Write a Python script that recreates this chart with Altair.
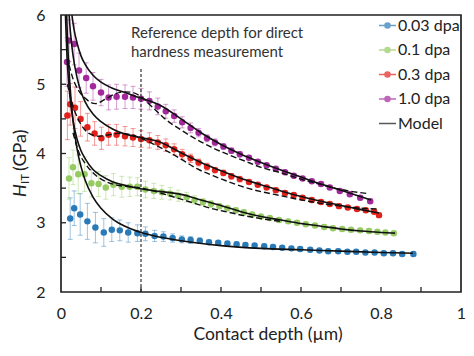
import altair as alt
import pandas as pd

# ---------------- data ----------------
series_names = ["0.03 dpa", "0.1 dpa", "0.3 dpa", "1.0 dpa"]
series_colors = ["#2a7ab8", "#95cb62", "#e3211c", "#a2289c"]

x_003 = [0.023, 0.033, 0.048, 0.066, 0.086, 0.107, 0.127, 0.147, 0.168, 0.191,
         0.211, 0.234, 0.256, 0.279, 0.302, 0.324, 0.347, 0.37, 0.393, 0.416,
         0.439, 0.461, 0.484, 0.508, 0.53, 0.553, 0.576, 0.598, 0.623, 0.646,
         0.668, 0.693, 0.716, 0.738, 0.761, 0.784, 0.807, 0.83, 0.853, 0.881]
h_003 = [3.06, 3.21, 3.12, 3.02, 2.93, 2.86, 2.9, 2.89, 2.86, 2.85,
         2.84, 2.81, 2.8, 2.78, 2.76, 2.75, 2.74, 2.72, 2.71, 2.7,
         2.69, 2.68, 2.67, 2.66, 2.65, 2.64, 2.63, 2.62, 2.61, 2.6,
         2.59, 2.59, 2.58, 2.58, 2.57, 2.57, 2.56, 2.56, 2.55, 2.55]
e_003 = [0.3, 0.25, 0.3, 0.26, 0.22, 0.2, 0.17, 0.15, 0.14, 0.12,
         0.1, 0.08, 0.07, 0.06, 0.05, 0.05, 0.04, 0.03, 0.03, 0.03,
         0.03, 0.03, 0.03, 0.03, 0.03, 0.03, 0.03, 0.03, 0.03, 0.03,
         0.03, 0.03, 0.03, 0.03, 0.03, 0.03, 0.03, 0.03, 0.03, 0.03]

x_01 = [0.02, 0.03, 0.043, 0.059, 0.076, 0.094, 0.112, 0.131, 0.152, 0.172,
        0.191, 0.211, 0.232, 0.252, 0.273, 0.293, 0.314, 0.334, 0.355, 0.375,
        0.396, 0.416, 0.437, 0.457, 0.478, 0.5, 0.522, 0.545, 0.568, 0.59,
        0.612, 0.635, 0.658, 0.68, 0.703, 0.725, 0.748, 0.77, 0.791, 0.811, 0.832]
h_01 = [3.64, 3.8, 3.7, 3.7, 3.57, 3.56, 3.51, 3.55, 3.52, 3.52,
        3.52, 3.48, 3.46, 3.44, 3.42, 3.39, 3.37, 3.33, 3.3, 3.27,
        3.24, 3.21, 3.18, 3.15, 3.12, 3.09, 3.07, 3.04, 3.02, 3.0,
        2.98, 2.96, 2.94, 2.92, 2.91, 2.9, 2.89, 2.88, 2.87, 2.86, 2.85]
e_01 = [0.3, 0.25, 0.28, 0.25, 0.2, 0.18, 0.17, 0.16, 0.15, 0.14,
        0.13, 0.12, 0.11, 0.1, 0.09, 0.08, 0.07, 0.06, 0.05, 0.05,
        0.04, 0.04, 0.04, 0.04, 0.03, 0.03, 0.03, 0.03, 0.03, 0.03,
        0.03, 0.03, 0.03, 0.03, 0.03, 0.03, 0.03, 0.03, 0.03, 0.03, 0.03]

x_03 = [0.016, 0.023, 0.035, 0.049, 0.066, 0.084, 0.101, 0.119, 0.139, 0.16,
        0.18, 0.2, 0.221, 0.242, 0.262, 0.283, 0.303, 0.324, 0.344, 0.365,
        0.385, 0.406, 0.426, 0.447, 0.47, 0.492, 0.514, 0.537, 0.56, 0.582,
        0.604, 0.627, 0.65, 0.672, 0.695, 0.717, 0.74, 0.762, 0.783, 0.795]
h_03 = [4.55, 4.71, 4.66, 4.5, 4.38, 4.29, 4.22, 4.27, 4.27, 4.25,
        4.23, 4.21, 4.19, 4.16, 4.12, 4.06, 3.99, 3.93, 3.87, 3.81,
        3.76, 3.72, 3.67, 3.63, 3.59, 3.55, 3.51, 3.47, 3.43, 3.4,
        3.36, 3.33, 3.3, 3.27, 3.24, 3.22, 3.2, 3.18, 3.16, 3.11]
e_03 = [0.35, 0.3, 0.3, 0.25, 0.2, 0.17, 0.16, 0.15, 0.15, 0.14,
        0.13, 0.12, 0.11, 0.1, 0.09, 0.08, 0.07, 0.06, 0.05, 0.05,
        0.04, 0.04, 0.04, 0.04, 0.03, 0.03, 0.03, 0.03, 0.03, 0.03,
        0.03, 0.03, 0.03, 0.03, 0.03, 0.03, 0.03, 0.03, 0.03, 0.03]

x_10 = [0.015, 0.02, 0.033, 0.045, 0.063, 0.08, 0.1, 0.119, 0.139, 0.16,
        0.18, 0.2, 0.221, 0.242, 0.262, 0.283, 0.303, 0.324, 0.344, 0.365,
        0.385, 0.406, 0.426, 0.447, 0.47, 0.492, 0.514, 0.537, 0.56, 0.582,
        0.604, 0.627, 0.65, 0.672, 0.697, 0.722, 0.748, 0.773]
h_10 = [5.32, 5.63, 5.58, 5.2, 5.09, 4.97, 4.88, 4.81, 4.82, 4.82,
        4.81, 4.79, 4.76, 4.68, 4.61, 4.54, 4.45, 4.37, 4.3, 4.22,
        4.16, 4.1, 4.04, 3.99, 3.94, 3.88, 3.83, 3.78, 3.73, 3.68,
        3.64, 3.6, 3.56, 3.51, 3.46, 3.41, 3.36, 3.31]
e_10 = [0.35, 0.3, 0.3, 0.25, 0.22, 0.2, 0.19, 0.18, 0.18, 0.17,
        0.16, 0.15, 0.13, 0.12, 0.1, 0.09, 0.08, 0.07, 0.06, 0.05,
        0.05, 0.04, 0.04, 0.04, 0.03, 0.03, 0.03, 0.03, 0.03, 0.03,
        0.03, 0.03, 0.03, 0.03, 0.03, 0.03, 0.03, 0.03]

# model curves (solid)
mx_003 = [0.013, 0.016, 0.02, 0.025, 0.03, 0.04, 0.05, 0.06, 0.08, 0.1, 0.13,
          0.16, 0.2, 0.25, 0.3, 0.4, 0.5, 0.6, 0.7, 0.8, 0.88]
mh_003 = [6.2, 5.69, 5.21, 4.79, 4.48, 4.07, 3.81, 3.62, 3.37, 3.21, 3.05,
          2.95, 2.86, 2.79, 2.74, 2.67, 2.63, 2.61, 2.59, 2.57, 2.56]
mx_01 = [0.01, 0.012, 0.015, 0.02, 0.025, 0.03, 0.04, 0.05, 0.06, 0.08, 0.1,
         0.13, 0.16, 0.2, 0.25, 0.3, 0.35, 0.4, 0.45, 0.5, 0.55, 0.6, 0.65,
         0.7, 0.75, 0.8, 0.835]
mh_01 = [6.2, 5.85, 5.4, 4.97, 4.69, 4.48, 4.21, 4.04, 3.93, 3.77, 3.68,
         3.59, 3.54, 3.49, 3.45, 3.41, 3.33, 3.25, 3.16, 3.09, 3.04, 2.99, 2.95,
         2.91, 2.88, 2.86, 2.85]
mx_03 = [0.019, 0.022, 0.025, 0.03, 0.04, 0.05, 0.06, 0.08, 0.1, 0.13, 0.16,
         0.2, 0.25, 0.3, 0.35, 0.4, 0.45, 0.5, 0.55, 0.6, 0.65, 0.7, 0.75, 0.795]
mh_03 = [6.11, 5.86, 5.67, 5.42, 5.1, 4.89, 4.75, 4.57, 4.46, 4.35, 4.28,
         4.23, 4.16, 4.01, 3.87, 3.75, 3.64, 3.55, 3.46, 3.38, 3.31, 3.25, 3.19, 3.14]
mx_10 = [0.025, 0.028, 0.032, 0.04, 0.05, 0.06, 0.08, 0.1, 0.13, 0.16, 0.2,
         0.25, 0.3, 0.35, 0.4, 0.45, 0.5, 0.55, 0.6, 0.65, 0.7, 0.775]
mh_10 = [6.11, 5.97, 5.81, 5.6, 5.41, 5.29, 5.13, 5.03, 4.94, 4.88, 4.8,
         4.69, 4.5, 4.3, 4.13, 3.99, 3.87, 3.76, 3.66, 3.56, 3.47, 3.33]

# model curves (dashed)
dx_01 = [0.03, 0.045, 0.06, 0.086, 0.11, 0.135, 0.17, 0.2, 0.23, 0.26, 0.3,
         0.34, 0.38, 0.42, 0.46, 0.5, 0.55]
dh_01 = [4.3, 4.01, 3.86, 3.69, 3.6, 3.55, 3.52, 3.5, 3.46, 3.41, 3.34,
         3.27, 3.2, 3.15, 3.1, 3.06, 3.02]
dx_03 = [0.016, 0.025, 0.037, 0.05, 0.07, 0.094, 0.12, 0.143, 0.176, 0.2, 0.23,
         0.26, 0.3, 0.34, 0.38, 0.42, 0.46, 0.5, 0.55, 0.6, 0.65, 0.7, 0.75, 0.79]
dh_03 = [5.0, 4.78, 4.57, 4.42, 4.29, 4.25, 4.27, 4.29, 4.27, 4.22, 4.14,
         4.05, 3.92, 3.78, 3.68, 3.59, 3.51, 3.45, 3.39, 3.33, 3.28, 3.24, 3.21, 3.2]
dx_10 = [0.02, 0.03, 0.045, 0.06, 0.086, 0.11, 0.135, 0.16, 0.18, 0.2, 0.23,
         0.26, 0.3, 0.34, 0.38, 0.42, 0.46, 0.5, 0.55, 0.6, 0.65, 0.7, 0.77]
dh_10 = [5.28, 5.08, 4.9, 4.8, 4.72, 4.78, 4.86, 4.89, 4.88, 4.82, 4.66,
         4.5, 4.34, 4.2, 4.08, 3.98, 3.89, 3.8, 3.72, 3.63, 3.55, 3.48, 3.42]

ref_depth = 0.2
ref_top = 5.23
x_ticks = [0, 0.2, 0.4, 0.6, 0.8, 1]
y_ticks = [2, 3, 4, 5, 6]
x_minor = [0.1, 0.2, 0.3, 0.4, 0.5, 0.6, 0.7, 0.8, 0.9]
y_minor = [2.5, 3, 3.5, 4, 4.5, 5, 5.5]
annotation = ["Reference depth for direct", "hardness measurement"]
x_title = "Contact depth (µm)"

FONT = "Lato"
TXT = "#222222"
W, H = 400, 277

xs = alt.Scale(domain=[0, 1], nice=False, zero=False)
ys = alt.Scale(domain=[2, 6], nice=False, zero=False)

x_axis = alt.Axis(values=x_ticks, format="~g", ticks=False, tickSize=0, domain=False,
                  grid=False, labelFontSize=16, labelFont=FONT, labelColor=TXT,
                  labelPadding=13, title=None, labelFlush=False)
y_axis = alt.Axis(values=y_ticks, format="d", ticks=False, tickSize=0, domain=False,
                  grid=False, labelFontSize=16, labelFont=FONT, labelColor=TXT,
                  labelPadding=16, title=None, labelFlush=False)


def X(f):
    return alt.X(f, type="quantitative", scale=xs, axis=x_axis)


def Y(f):
    return alt.Y(f, type="quantitative", scale=ys, axis=y_axis)


layers = []

# error bars and points, one colour per series
for name, colr, xv, hv, ev in zip(series_names, series_colors,
                                  [x_003, x_01, x_03, x_10],
                                  [h_003, h_01, h_03, h_10],
                                  [e_003, e_01, e_03, e_10]):
    df = pd.DataFrame({"x": xv, "y": hv, "e": ev})
    df["lo"] = df["y"] - df["e"]
    df["hi"] = df["y"] + df["e"]
    base = alt.Chart(df)
    layers.append(base.mark_rule(color=colr, strokeWidth=1, opacity=0.45, clip=True)
                  .encode(x=X("x"), y=Y("lo"), y2="hi"))
    layers.append(base.mark_tick(color=colr, orient="horizontal", size=5, thickness=1,
                                 opacity=0.45, clip=True).encode(x=X("x"), y=Y("lo")))
    layers.append(base.mark_tick(color=colr, orient="horizontal", size=5, thickness=1,
                                 opacity=0.45, clip=True).encode(x=X("x"), y=Y("hi")))
    layers.append(base.mark_circle(color=colr, size=42, opacity=1, clip=True)
                  .encode(x=X("x"), y=Y("y")))

# model lines
mrows = []
for name, xv, hv in zip(series_names, [mx_003, mx_01, mx_03, mx_10],
                        [mh_003, mh_01, mh_03, mh_10]):
    for x, h in zip(xv, hv):
        mrows.append({"series": name, "x": x, "y": h})
model = pd.DataFrame(mrows)
drows = []
for name, xv, hv in zip(series_names[1:], [dx_01, dx_03, dx_10], [dh_01, dh_03, dh_10]):
    for x, h in zip(xv, hv):
        drows.append({"series": name, "x": x, "y": h})
dashed = pd.DataFrame(drows)

layers.append(alt.Chart(model).mark_line(color="#111111", strokeWidth=1.6, clip=True,
                                         interpolate="monotone").encode(
    x=X("x"), y=Y("y"), detail="series:N"))
layers.append(alt.Chart(dashed).mark_line(color="#111111", strokeWidth=1.4, clip=True,
                                          strokeDash=[6, 3], interpolate="monotone").encode(
    x=X("x"), y=Y("y"), detail="series:N"))

# reference depth line
layers.append(alt.Chart(pd.DataFrame({"x": [ref_depth], "y": [2.0], "y2": [ref_top]}))
              .mark_rule(strokeDash=[3, 2], color="#333333", strokeWidth=1.2)
              .encode(x=X("x"), y=Y("y"), y2="y2"))

# inward ticks
layers.append(alt.Chart(pd.DataFrame({"x": x_minor})).mark_rule(color=TXT, strokeWidth=1.3)
              .encode(x=X("x"), y=alt.value(H), y2=alt.value(H - 5)))
layers.append(alt.Chart(pd.DataFrame({"y": y_minor})).mark_rule(color=TXT, strokeWidth=1.3)
              .encode(y=Y("y"), x=alt.value(0), x2=alt.value(5)))

# frame
layers.append(alt.Chart(pd.DataFrame({"a": [0]})).mark_rect(
    fillOpacity=0, stroke=TXT, strokeWidth=1.7).encode(
    x=alt.value(0), x2=alt.value(W), y=alt.value(0), y2=alt.value(H)))


def txt(t, x, y, size, **kw):
    return alt.Chart(pd.DataFrame({"t": [t]})).mark_text(
        font=FONT, fontSize=size, color=kw.pop("color", TXT), **kw).encode(
        text="t:N", x=alt.value(x), y=alt.value(y))


layers.append(txt(annotation[0], 70, 18, 15, align="left", baseline="middle", color="#333333"))
layers.append(txt(annotation[1], 70, 37, 15, align="left", baseline="middle", color="#333333"))
layers.append(txt(x_title, 207, 320, 17.5, align="center", baseline="middle"))
layers.append(txt("H", -40, 182, 18, align="left", baseline="middle", angle=270,
                  fontStyle="italic"))
layers.append(txt("IT", -35, 169, 11.5, align="left", baseline="middle", angle=270))
layers.append(txt("(GPa)", -40, 156, 18, align="left", baseline="middle", angle=270))

# legend (line with dot, and plain line for the model)
legend_names = series_names + ["Model"]
legend_colors = series_colors + ["#111111"]
dot = ("M-1,0L1,0"
       "M0.3,0A0.3,0.3,0,1,1,-0.3,0A0.3,0.3,0,1,1,0.3,0"
       "M0.2,0A0.2,0.2,0,1,1,-0.2,0A0.2,0.2,0,1,1,0.2,0"
       "M0.09,0A0.09,0.09,0,1,1,-0.09,0A0.09,0.09,0,1,1,0.09,0")
legend_shapes = [dot, dot, dot, dot, "M-1,0L1,0"]
leg_kw = dict(orient="none", legendX=317, legendY=1, padding=0, rowPadding=6.5,
              labelOffset=1, symbolSize=289, symbolStrokeWidth=1.5, labelFontSize=16,
              labelFont=FONT, labelColor=TXT, title=None, labelLimit=200)
layers.append(alt.Chart(pd.DataFrame({"series": legend_names})).mark_point(
    filled=False, clip=True, strokeWidth=1.5).encode(
    x=alt.value(-500), y=alt.value(-500),
    color=alt.Color("series:N", scale=alt.Scale(domain=legend_names, range=legend_colors),
                    legend=alt.Legend(**leg_kw)),
    shape=alt.Shape("series:N", scale=alt.Scale(domain=legend_names, range=legend_shapes),
                    legend=alt.Legend(**leg_kw))))

chart = alt.layer(*layers).properties(
    width=W, height=H, autosize="none",
    padding={"left": 53, "top": 7, "right": 5, "bottom": 52},
    background="white",
).configure_view(strokeWidth=0)

chart.save("out.html", embed_options={"renderer": "svg", "actions": False})
